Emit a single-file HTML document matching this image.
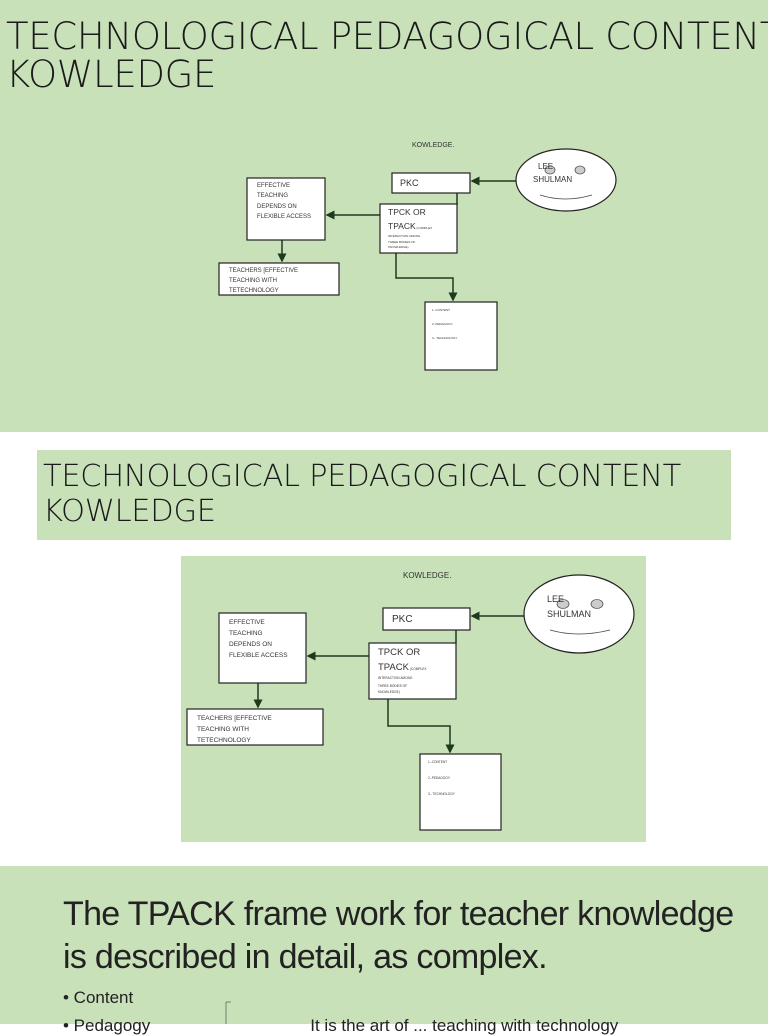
<!DOCTYPE html>
<html><head><meta charset="utf-8"><style>
html,body{margin:0;padding:0;background:#fff;}
body{width:768px;height:1024px;position:relative;overflow:hidden;font-family:"Liberation Sans",sans-serif;}
.g{background:#c8e1b9;position:absolute;}
.t{position:absolute;color:#1a1a1a;white-space:nowrap;font-family:"DejaVu Sans","Liberation Sans",sans-serif;font-weight:300;}
svg{position:absolute;left:0;top:0;}
</style></head><body>
<div class="g" style="left:0;top:0;width:768px;height:432px;"></div>
<div class="t" style="left:6px;top:18px;font-size:37px;line-height:38px;letter-spacing:-0.3px;">TECHNOLOGICAL PEDAGOGICAL CONTENT<br>KOWLEDGE</div>

<div class="g" style="left:37px;top:450px;width:694px;height:90px;"></div>
<div class="t" style="left:43px;top:459px;font-size:30.5px;line-height:35px;letter-spacing:-0.3px;">TECHNOLOGICAL PEDAGOGICAL CONTENT<br>KOWLEDGE</div>

<div class="g" style="left:181px;top:556px;width:465px;height:286px;"></div>

<div class="g" style="left:0;top:866px;width:768px;height:158px;"></div>
<div class="t" style="left:63px;top:893px;font-size:34px;line-height:43px;font-family:'Liberation Sans',sans-serif;font-weight:normal;letter-spacing:-0.7px;color:#222;">The TPACK frame work for teacher knowledge<br>is described in detail, as complex.</div>
<div class="t" style="left:63px;top:988px;font-size:17px;font-family:'Liberation Sans',sans-serif;font-weight:normal;color:#222;">• Content</div>
<div class="t" style="left:63px;top:1016px;font-size:17px;font-family:'Liberation Sans',sans-serif;font-weight:normal;color:#222;">• Pedagogy<span style="margin-left:160px">It is the art of ... teaching with technology</span></div>
<svg width="768" height="1024" font-family="Liberation Sans, sans-serif">
<defs><marker id="a" markerWidth="6" markerHeight="6" refX="5" refY="3" orient="auto"><path d="M0,0L6,3L0,6z" fill="#1d3a1d"/></marker></defs>
<line x1="231" y1="1002" x2="226" y2="1002" stroke="#555" stroke-width="0.7"/>
<line x1="226" y1="1002" x2="226" y2="1024" stroke="#555" stroke-width="0.7"/>
<!-- diagram 1 -->
<g stroke="#1d3a1d" stroke-width="1.5" fill="none">
<line x1="516" y1="181" x2="472" y2="181" marker-end="url(#a)"/>
<polyline points="457,193 457,205"/>
<line x1="380" y1="215" x2="327" y2="215" marker-end="url(#a)"/>
<line x1="282" y1="240" x2="282" y2="261" marker-end="url(#a)"/>
<polyline points="396,253 396,278 453,278 453,300" marker-end="url(#a)"/>
</g>
<g fill="#fff" stroke="#222" stroke-width="1.2">
<rect x="247" y="178" width="78" height="62"/>
<rect x="219" y="263" width="120" height="32"/>
<rect x="392" y="173" width="78" height="20"/>
<rect x="380" y="204" width="77" height="49"/>
<rect x="425" y="302" width="72" height="68"/>
<ellipse cx="566" cy="180" rx="50" ry="31"/>
</g>
<ellipse cx="550" cy="170" rx="5" ry="4" fill="#ccc" stroke="#555" stroke-width="0.8"/>
<ellipse cx="580" cy="170" rx="5" ry="4" fill="#ccc" stroke="#555" stroke-width="0.8"/>
<path d="M540,195 Q565,203 592,195" stroke="#444" fill="none" stroke-width="0.8"/>
<g fill="#333" font-size="6">
<text x="412" y="147" font-size="7">KOWLEDGE.</text>
<text x="538" y="169" font-size="8">LEE</text>
<text x="533" y="182" font-size="8">SHULMAN</text>
<text x="257" y="187">EFFECTIVE</text>
<text x="257" y="197">TEACHING</text>
<text x="257" y="208">DEPENDS ON</text>
<text x="257" y="218">FLEXIBLE ACCESS</text>
<text x="229" y="272">TEACHERS [EFFECTIVE</text>
<text x="229" y="282">TEACHING WITH</text>
<text x="229" y="292">TETECHNOLOGY</text>
<text x="400" y="186" font-size="9">PKC</text>
<text x="388" y="215" font-size="8.5">TPCK OR</text>
<text x="388" y="229" font-size="8.5">TPACK<tspan font-size="3"> (COMPLEX</tspan></text>
<text x="388" y="237" font-size="3">INTERACTION AMONG</text>
<text x="388" y="243" font-size="3">THREE BODIES OF</text>
<text x="388" y="248" font-size="3">KNOWLEDGE)</text>
<text x="432" y="311" font-size="3">1.-CONTENT</text>
<text x="432" y="325" font-size="3">2.-PEDAGOGY</text>
<text x="432" y="339" font-size="3">3.- TECHNOLOGY</text>
</g>
<!-- diagram 2 -->
<g stroke="#1d3a1d" stroke-width="1.5" fill="none">
<line x1="524" y1="616" x2="472" y2="616" marker-end="url(#a)"/>
<polyline points="456,630 456,643"/>
<line x1="369" y1="656" x2="308" y2="656" marker-end="url(#a)"/>
<line x1="258" y1="683" x2="258" y2="707" marker-end="url(#a)"/>
<polyline points="388,699 388,726 450,726 450,752" marker-end="url(#a)"/>
</g>
<g fill="#fff" stroke="#222" stroke-width="1.2">
<rect x="219" y="613" width="87" height="70"/>
<rect x="187" y="709" width="136" height="36"/>
<rect x="383" y="608" width="87" height="22"/>
<rect x="369" y="643" width="87" height="56"/>
<rect x="420" y="754" width="81" height="76"/>
<ellipse cx="579" cy="614" rx="55" ry="39"/>
</g>
<ellipse cx="563" cy="604" rx="6" ry="4.5" fill="#ccc" stroke="#555" stroke-width="0.8"/>
<ellipse cx="597" cy="604" rx="6" ry="4.5" fill="#ccc" stroke="#555" stroke-width="0.8"/>
<path d="M550,630 Q578,638 610,630" stroke="#444" fill="none" stroke-width="0.8"/>
<g fill="#333" font-size="6.5">
<text x="403" y="578" font-size="8">KOWLEDGE.</text>
<text x="547" y="602" font-size="9">LEE</text>
<text x="547" y="617" font-size="9">SHULMAN</text>
<text x="229" y="624">EFFECTIVE</text>
<text x="229" y="635">TEACHING</text>
<text x="229" y="646">DEPENDS ON</text>
<text x="229" y="657">FLEXIBLE ACCESS</text>
<text x="197" y="720">TEACHERS [EFFECTIVE</text>
<text x="197" y="731">TEACHING WITH</text>
<text x="197" y="742">TETECHNOLOGY</text>
<text x="392" y="622" font-size="10">PKC</text>
<text x="378" y="655" font-size="9.5">TPCK OR</text>
<text x="378" y="670" font-size="9.5">TPACK<tspan font-size="3.2"> (COMPLEX</tspan></text>
<text x="378" y="679" font-size="3.2">INTERACTION AMONG</text>
<text x="378" y="687" font-size="3.2">THREE BODIES OF</text>
<text x="378" y="693" font-size="3.2">KNOWLEDGE)</text>
<text x="428" y="763" font-size="3.2">1.-CONTENT</text>
<text x="428" y="779" font-size="3.2">2.-PEDAGOGY</text>
<text x="428" y="795" font-size="3.2">3.- TECHNOLOGY</text>
</g>
</svg>
</body></html>
